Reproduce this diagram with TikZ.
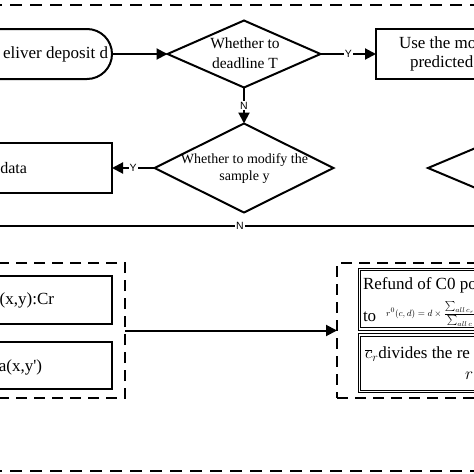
\documentclass[tikz,border=0pt]{standalone}
\usepackage{fontspec}
\setmainfont{Liberation Serif}
\newfontfamily\lblfont{Liberation Sans}
\usetikzlibrary{shapes.geometric,arrows.meta}
\begin{document}
\begin{tikzpicture}[x=1pt,y=-1pt,
  shp/.style={draw, line width=2pt, inner sep=0pt, outer sep=0pt},
  dia/.style={shp, diamond},
  rbox/.style={shp, rectangle},
  dbox/.style={draw, line width=1pt, double, double distance=1.2pt, rectangle, inner sep=0pt, outer sep=0pt},
  grp/.style={draw, line width=2pt, dash pattern=on 11pt off 7pt, rectangle, inner sep=0pt, outer sep=0pt},
  dline/.style={line width=2pt, dash pattern=on 12pt off 8pt},
  txt/.style={inner sep=0pt, outer sep=0pt, font=\fontsize{17}{20}\selectfont},
  arr/.style={line width=2pt, -{Triangle[length=11pt,width=11pt]}},
  plain/.style={line width=2pt},
  lbl/.style={fill=white, inner sep=1pt, font=\lblfont\fontsize{10.5}{10.5}\selectfont}
]
\useasboundingbox (0,0) rectangle (474,474);
\clip (0,0) rectangle (474,474);

% dashed frame lines
\coordinate (tl) at (-10,5);
\coordinate (tr) at (484,5);
\coordinate (bl) at (-10,471);
\coordinate (br) at (484,471);
\draw[dline] (tl) -- (tr);
\draw[dline] (bl) -- (br);

% top row
\node[shp, rectangle, rounded corners=25pt, minimum width=312pt, minimum height=50pt] (dep) at (-44,54) {};
\node[txt, anchor=east] (deptxt) at (108,54) {eliver deposit d};

\node[dia, minimum width=153pt, minimum height=67pt] (d1) at (244,54) {};
\node[inner sep=0pt, align=center, font=\fontsize{15.5}{20}\selectfont] (d1txt) at (245,53) {Whether to\\deadline T};

\node[rbox, minimum width=224pt, minimum height=50pt] (use) at (488,54) {};
\node[txt, anchor=west] (usetxt1) at (399,43) {Use the mo};
\node[txt, anchor=west] (usetxt2) at (410,63) {predicted};

% second row
\node[dia, minimum width=179pt, minimum height=89pt] (d2) at (244,168) {};
\node[inner sep=0pt, align=center, font=\fontsize{14}{17}\selectfont] (d2txt) at (244.5,168.5) {Whether to modify the\\sample y};

\node[rbox, minimum width=312pt, minimum height=50pt] (data) at (-44,168) {};
\node[inner sep=0pt, outer sep=0pt, font=\fontsize{16}{19}\selectfont, anchor=east] (datatxt) at (27,168) {data};

\node[dia, minimum width=200pt, minimum height=84pt] (d3) at (528,168) {};

% connectors
\draw[arr] (dep.east) -- (d1.west);
\draw[arr] (d1.east) -- node[lbl] (y1) {Y} (use.west);
\draw[arr] (d1.south) -- node[lbl] (n1) {N} (d2.north);
\draw[arr] (d2.west) -- node[lbl] (y2) {Y} (data.east);

\coordinate (nl) at (-10,226);
\coordinate (nr) at (484,226);
\draw[plain] (nr) -- node[lbl, pos=0.494] (n2) {N} (nl);

% lower left group
\node[grp, minimum width=325pt, minimum height=135pt] (g1) at (-37.5,330.5) {};
\node[rbox, minimum width=312pt, minimum height=48pt] (b1) at (-44,300) {};
\node[txt, anchor=east] (b1txt) at (54,300) {(x,y):Cr};
\node[rbox, minimum width=312pt, minimum height=47pt] (b2) at (-44,365.5) {};
\node[txt, anchor=east] (b2txt) at (42,367) {a(x,y\textquotesingle)};

% lower right group
\node[grp, minimum width=363pt, minimum height=135pt] (g2) at (518.5,330.5) {};
\node[dbox, minimum width=340pt, minimum height=59.5pt] (r1) at (529.5,299.25) {};
\node[dbox, minimum width=340pt, minimum height=56.5pt] (r2) at (529.5,363.25) {};

\node[txt, anchor=west] (r1txt1) at (363,285) {Refund of C0 po};
\node[txt, anchor=west] (r1txt2) at (363,317) {to};
\node[inner sep=0pt, anchor=west, font=\fontsize{9.5}{11}\selectfont] (r1form) at (386,314)
  {$\displaystyle r^{0}(c,d)=d\times\frac{\sum_{all\,c_r}}{\sum_{all\,c}}$};
\node[txt, anchor=west] (r2txt1) at (365,354) {$\overline{c}_r$divides the re};
\node[txt, anchor=west] (r2txt2) at (465,376) {$r$};

\draw[arr] (g1.east) -- (g2.west);
\end{tikzpicture}
\end{document}
